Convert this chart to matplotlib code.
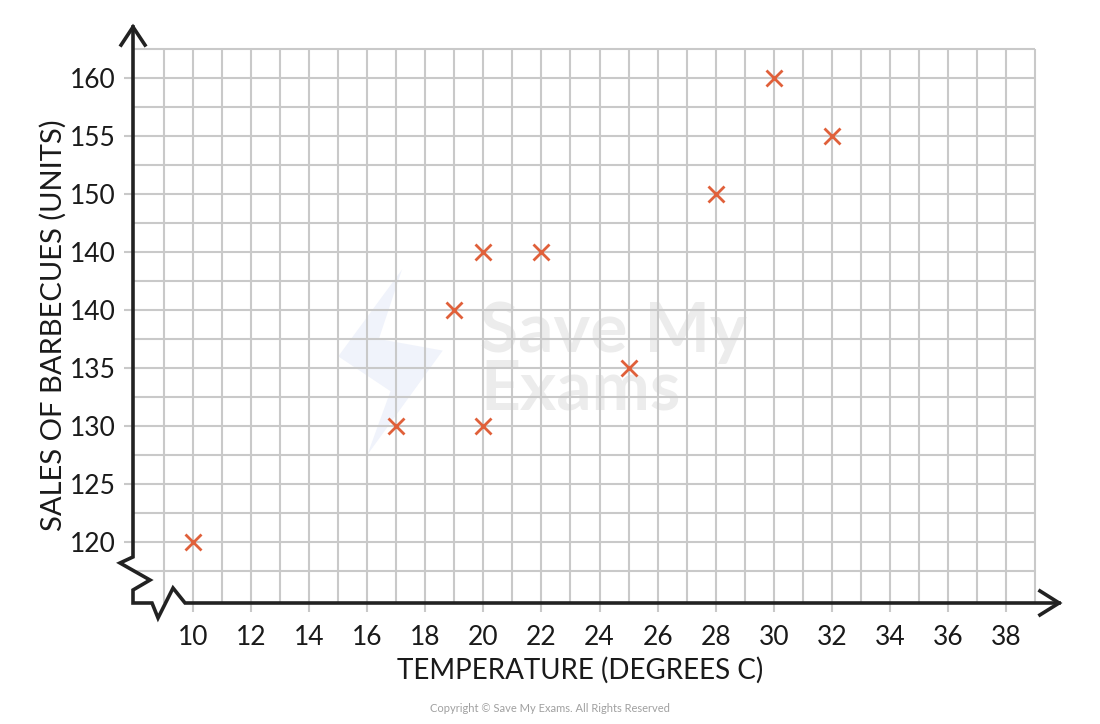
import matplotlib
matplotlib.use("Agg")
import matplotlib.pyplot as plt
import numpy as np

# ---- data ----
temperature = [10, 17, 19, 20, 20, 22, 25, 28, 30, 32]
sales = [120, 130, 140, 145, 130, 145, 135, 150, 160, 155]
x_ticks = [10, 12, 14, 16, 18, 20, 22, 24, 26, 28, 30, 32, 34, 36, 38]
y_ticks = [120, 125, 130, 135, 140, 145, 150, 155, 160]
y_tick_labels = ["120", "125", "130", "135", "140", "140", "150", "155", "160"]
x_label = "TEMPERATURE (DEGREES C)"
y_label = "SALES OF BARBECUES (UNITS)"

FONT = ["Lato", "DejaVu Sans"]
plt.rcParams["font.family"] = FONT

W, H = 1100, 724
fig = plt.figure(figsize=(W / 100, H / 100), dpi=100)

x0, x1 = 7.931, 39.0
y0, y1 = 114.74, 162.5
ax = fig.add_axes([133 / W, (H - 603) / H, (1035 - 133) / W, (603 - 49) / H])
ax.set_xlim(x0, x1)
ax.set_ylim(y0, y1)

grid_c = "#c9c9c9"
for gx in np.arange(9, 39.5, 1):
    ax.plot([gx, gx], [y0, y1], color=grid_c, lw=1.5, zorder=1, clip_on=False,
            solid_capstyle="butt")
for gy in np.arange(117.5, 163, 2.5):
    ax.plot([x0, x1], [gy, gy], color=grid_c, lw=1.5, zorder=1, clip_on=False,
            solid_capstyle="butt")

ax.set_xticks(x_ticks)
ax.set_xticklabels([str(t) for t in x_ticks])
ax.set_yticks(y_ticks)
ax.set_yticklabels(y_tick_labels)
ax.tick_params(axis="both", color=grid_c, width=1.5, length=6.5, labelsize=19,
               labelcolor="#1a1a1a")
ax.tick_params(axis="x", pad=9)
ax.tick_params(axis="y", pad=6)
for s in ax.spines.values():
    s.set_visible(False)
ax.patch.set_alpha(0)

# watermark
ax.text(19.9, 135.6, "Save My\nExams", fontsize=50, fontweight="bold",
        color="#ececec", ha="left", va="center", zorder=0.5, linespacing=0.9,
        family=FONT)
ax.fill([15.0, 17.2, 16.4, 18.6, 16.0, 16.8], [136.0, 143.5, 137.5, 136.5, 127.5, 133.0],
        color="#f0f3fb", zorder=0.4, lw=0)

# data
ax.plot(temperature, sales, linestyle="none", marker="x", markersize=11,
        markeredgewidth=2.0, color="#E0603A", zorder=5, clip_on=False)

# axes with break marks and arrows
axis_c = "#222222"
ax_x = [7.931, 7.931, 7.483, 8.517, 7.931, 7.931, 8.586, 8.793, 9.310, 9.724, 39.83]
ax_y = [164.40, 118.71, 118.19, 116.72, 115.86, 114.74, 114.74, 113.45, 116.03, 114.74, 114.74]
ax.plot(ax_x, ax_y, color=axis_c, lw=2.6, clip_on=False, zorder=6,
        solid_joinstyle="miter")
ax.plot([7.52, 7.931, 8.345], [162.84, 164.40, 162.84], color=axis_c, lw=2.6,
        clip_on=False, zorder=6, solid_joinstyle="miter")
ax.plot([39.17, 39.83, 39.17], [115.78, 114.74, 113.71], color=axis_c, lw=2.6,
        clip_on=False, zorder=6, solid_joinstyle="miter")

fig.text(580 / W, 1 - 670 / H, x_label, ha="center", va="center", fontsize=20,
         color="#1a1a1a")
fig.text(53 / W, 1 - 325 / H, y_label, ha="center", va="center", fontsize=21,
         rotation=90, color="#1a1a1a")
fig.text(550 / W, 1 - 708 / H, "Copyright © Save My Exams. All Rights Reserved",
         ha="center", va="center", fontsize=8, color="#a0a0a0")

fig.savefig("out.png", dpi=100)
